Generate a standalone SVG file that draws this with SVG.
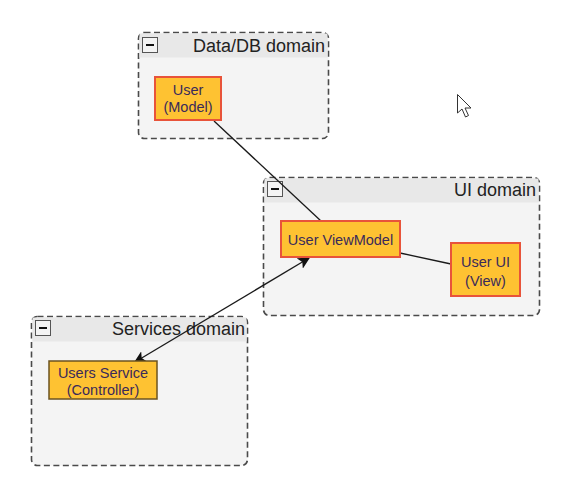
<svg xmlns="http://www.w3.org/2000/svg" width="576" height="496" viewBox="0 0 576 496">
<style>
.grp{fill:#f4f4f4;stroke:#4a4a4a;stroke-width:1.6;stroke-dasharray:6 3.5}
.hdr{fill:#e8e8e8}
.mini{fill:#f4f4f4;stroke:#555;stroke-width:1}
.title{font-family:"Liberation Sans",Arial,sans-serif;font-size:18px;fill:#222;text-anchor:end}
.node{fill:#fec232;stroke:#e8533a;stroke-width:2}
.lbl{font-family:"Liberation Sans",Arial,sans-serif;font-size:14.5px;fill:#3a2a5a;text-anchor:middle}
.edge{stroke:#1a1a1a;stroke-width:1.3;fill:none}
</style>
<defs>
<marker id="ah" viewBox="0 0 10 10" refX="9" refY="5" markerWidth="12" markerHeight="12" markerUnits="userSpaceOnUse" orient="auto-start-reverse">
<path d="M0,0 L10,5 L0,10 L2.5,5 Z" fill="#111"/>
</marker>
</defs>
<rect width="576" height="496" fill="#ffffff"/>

<g id="data-domain">
<rect class="grp" x="138.5" y="32.5" width="190" height="106" rx="6"/>
<rect class="hdr" x="139.5" y="33.5" width="188" height="24"/>
<rect class="mini" x="142.5" y="37.5" width="15" height="15"/>
<line x1="146" y1="45" x2="154" y2="45" stroke="#111" stroke-width="2"/>
<text class="title" x="325" y="52">Data/DB domain</text>
</g>
<g id="ui-domain">
<rect class="grp" x="263.5" y="177.5" width="276" height="138" rx="6"/>
<rect class="hdr" x="264.5" y="178.5" width="274" height="24"/>
<rect class="mini" x="267.5" y="181.5" width="15" height="15"/>
<line x1="271" y1="189" x2="279" y2="189" stroke="#111" stroke-width="2"/>
<text class="title" x="536" y="196">UI domain</text>
</g>
<g id="services-domain">
<rect class="grp" x="31.5" y="316.5" width="216" height="149" rx="6"/>
<rect class="hdr" x="32.5" y="317.5" width="214" height="24"/>
<rect class="mini" x="35.5" y="320.5" width="15" height="15"/>
<line x1="39" y1="328" x2="47" y2="328" stroke="#111" stroke-width="2"/>
<text class="title" x="245" y="335">Services domain</text>
</g>

<g id="connectors">
<line class="edge" x1="214" y1="121" x2="321" y2="221"/>
<line class="edge" x1="400" y1="253" x2="451" y2="264"/>
<line class="edge" x1="135" y1="362" x2="309" y2="258" marker-start="url(#ah)" marker-end="url(#ah)"/>
</g>

<g id="user-model">
<rect class="node" x="155" y="77" width="66" height="43"/>
<text class="lbl" x="188" y="95">User</text>
<text class="lbl" x="188" y="112">(Model)</text>
</g>
<g id="user-viewmodel">
<rect class="node" x="281" y="221" width="119" height="36"/>
<text class="lbl" x="340.5" y="244.5">User ViewModel</text>
</g>
<g id="user-ui">
<rect class="node" x="451" y="243" width="69" height="53"/>
<text class="lbl" x="485.5" y="267">User UI</text>
<text class="lbl" x="485.5" y="286">(View)</text>
</g>
<g id="users-service">
<rect class="node" x="49" y="361" width="108" height="38" style="stroke:#6b5320;stroke-width:1.5"/>
<text class="lbl" x="103" y="378">Users Service</text>
<text class="lbl" x="103" y="395">(Controller)</text>
</g>

<path d="M457.5,94.5 L457.5,113 L462,109 L465.5,117 L468.5,115.5 L465,108 L471,108 Z" fill="#ffffff" stroke="#333" stroke-width="1"/>
</svg>
